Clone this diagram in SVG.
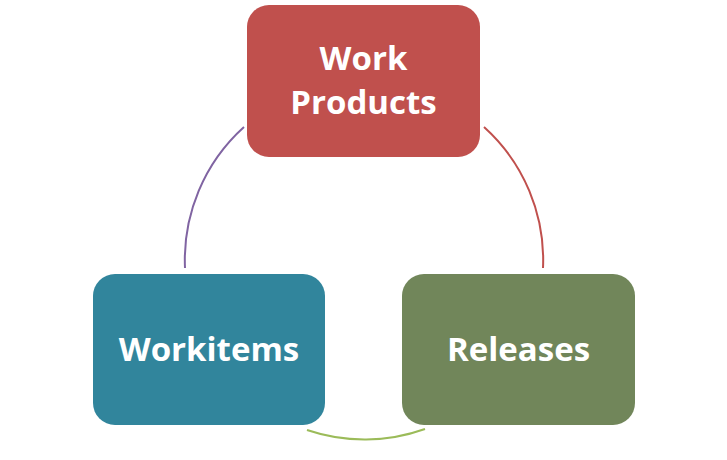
<svg xmlns="http://www.w3.org/2000/svg" width="727" height="460" viewBox="0 0 727 460">
<style>
.box{stroke:none}
.t{font-family:"Open Sans","DejaVu Sans",sans-serif;font-weight:bold;font-size:33px;fill:#fff;text-anchor:middle}
.arc{fill:none;stroke-width:2}
</style>
<rect width="727" height="460" fill="#fff"/>
<g id="connectors">
<path class="arc" stroke="#8064A2" d="M244,127 A179,179 0 0 0 185,268"/>
<path class="arc" stroke="#C0504D" d="M484,127 A179,179 0 0 1 543,268"/>
<path class="arc" stroke="#9BBB59" d="M307,430 A179,179 0 0 0 425,429"/>
</g>
<g id="work-products">
<rect class="box" x="247" y="5" width="233" height="152" rx="22" fill="#C0504D"/>
<text class="t" x="363.5" y="70">Work</text>
<text class="t" x="363.5" y="114">Products</text>
</g>
<g id="workitems">
<rect class="box" x="93" y="274" width="232" height="151" rx="22" fill="#31859C"/>
<text class="t" x="209" y="361">Workitems</text>
</g>
<g id="releases">
<rect class="box" x="402" y="274" width="233" height="151" rx="22" fill="#71865A"/>
<text class="t" x="518.5" y="361">Releases</text>
</g>
</svg>
